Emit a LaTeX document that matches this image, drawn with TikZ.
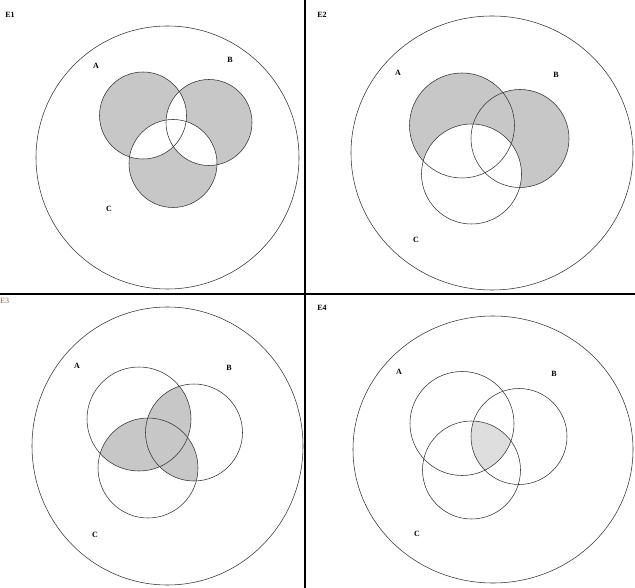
\documentclass[tikz,border=0pt]{standalone}
\usepackage{fontspec}
\setmainfont{Liberation Serif}
\definecolor{shadegray}{gray}{0.78}
\definecolor{lightshade}{gray}{0.87}
\definecolor{brownlabel}{HTML}{8A6048}
\begin{document}
\begin{tikzpicture}[x=1pt,y=-1pt,
  setline/.style={draw=black!80, line width=0.55pt},
  shadefill/.style={fill=shadegray},
  lbl/.style={font=\fontsize{8}{9}\selectfont\bfseries, inner sep=0pt},
  divider/.style={draw=black, line width=1.3pt}]
\useasboundingbox (0,0) rectangle (635,588);
\fill[white] (0,0) rectangle (635,588);

% ---------- E1 : exactly one ----------
\coordinate (a1) at (143,115.5);
\coordinate (b1) at (209,122.5);
\coordinate (c1) at (173,163.5);
\coordinate (o1) at (167.5,157.5);
\fill[shadefill, even odd rule] (a1) circle[radius=43.5pt] (b1) circle[radius=43pt] (c1) circle[radius=44pt];
\begin{scope}
  \clip (a1) circle[radius=43.5pt];
  \clip (b1) circle[radius=43pt];
  \fill[white] (c1) circle[radius=44pt];
\end{scope}
\draw[setline] (o1) ellipse[x radius=131.5pt, y radius=131.5pt];
\draw[setline] (a1) circle[radius=43.5pt];
\draw[setline] (b1) circle[radius=43pt];
\draw[setline] (c1) circle[radius=44pt];
\node[lbl] (t1) at (10,15) {E1};
\node[lbl] (la1) at (96,66) {A};
\node[lbl] (lb1) at (230,60) {B};
\node[lbl] (lc1) at (109,209) {C};

% ---------- E2 : (A or B) and not C ----------
\coordinate (a2) at (462,125.5);
\coordinate (b2) at (520,138.5);
\coordinate (c2) at (471.5,174);
\coordinate (o2) at (492,153);
\fill[shadefill] (a2) circle[radius=52.5pt];
\fill[shadefill] (b2) circle[radius=49pt];
\fill[white] (c2) circle[radius=50pt];
\draw[setline] (o2) ellipse[x radius=141pt, y radius=137pt];
\draw[setline] (a2) circle[radius=52.5pt];
\draw[setline] (b2) circle[radius=49pt];
\draw[setline] (c2) circle[radius=50pt];
\node[lbl] (t2) at (322,15) {E2};
\node[lbl] (la2) at (398,73) {A};
\node[lbl] (lb2) at (556,75) {B};
\node[lbl] (lc2) at (416,240) {C};

% ---------- E3 : at least two ----------
\coordinate (a3) at (139,419);
\coordinate (b3) at (194,432.5);
\coordinate (c3) at (148,468);
\coordinate (o3) at (167.5,446);
\begin{scope}
  \clip (a3) circle[radius=52pt];
  \fill[shadefill] (b3) circle[radius=48.5pt];
  \fill[shadefill] (c3) circle[radius=50pt];
\end{scope}
\begin{scope}
  \clip (b3) circle[radius=48.5pt];
  \fill[shadefill] (c3) circle[radius=50pt];
\end{scope}
\draw[setline] (o3) ellipse[x radius=135.5pt, y radius=139pt];
\draw[setline] (a3) circle[radius=52pt];
\draw[setline] (b3) circle[radius=48.5pt];
\draw[setline] (c3) circle[radius=50pt];
\node[lbl, anchor=west, text=brownlabel, font=\fontsize{8}{9}\selectfont] (t3) at (0,301) {E3};
\node[lbl] (la3) at (77,366) {A};
\node[lbl] (lb3) at (229,368) {B};
\node[lbl] (lc3) at (95,535) {C};

% ---------- E4 : all three ----------
\coordinate (a4) at (462,423.5);
\coordinate (b4) at (519,436.5);
\coordinate (c4) at (471.5,470);
\coordinate (o4) at (493,449.5);
\begin{scope}
  \clip (a4) circle[radius=52pt];
  \clip (b4) circle[radius=48pt];
  \fill[lightshade] (c4) circle[radius=49pt];
\end{scope}
\draw[setline] (o4) ellipse[x radius=140pt, y radius=133.5pt];
\draw[setline] (a4) circle[radius=52pt];
\draw[setline] (b4) circle[radius=48pt];
\draw[setline] (c4) circle[radius=49pt];
\node[lbl] (t4) at (322,308) {E4};
\node[lbl] (la4) at (399,372) {A};
\node[lbl] (lb4) at (554,374) {B};
\node[lbl] (lc4) at (417,534) {C};

% ---------- dividers ----------
\coordinate (vtop) at (305,0);
\coordinate (vbot) at (305,588);
\coordinate (hleft) at (0,294);
\coordinate (hright) at (635,294);
\draw[divider] (vtop) -- (vbot);
\draw[divider] (hleft) -- (hright);
\end{tikzpicture}
\end{document}
